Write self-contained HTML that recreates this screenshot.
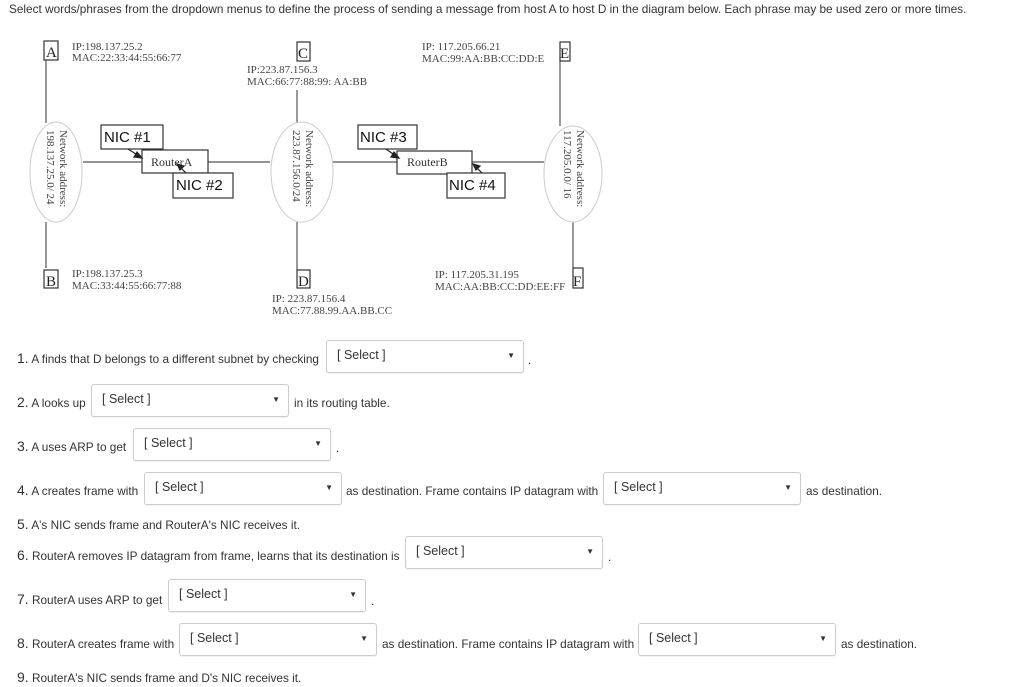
<!DOCTYPE html>
<html><head><meta charset="utf-8"><style>
body{margin:0;width:1024px;height:687px;background:#fff;position:relative;overflow:hidden;font-family:"Liberation Sans",Arial,sans-serif;color:#333;}
.t{position:absolute;font-size:11.8px;white-space:nowrap;line-height:14px;}
.t b{font-weight:normal;font-size:14px;}
.s{position:absolute;width:198px;height:33px;border:1px solid #ccc;border-radius:3px;box-sizing:border-box;background:#fff;box-shadow:0 1px 1px rgba(0,0,0,.06);}
.s span{position:absolute;left:10px;top:7px;font-size:12.5px;color:#333;}
.s i{position:absolute;right:8px;top:10px;font-style:normal;font-size:8px;color:#333;}
</style></head><body>
<div class="t" style="left:9px;top:2px;">Select words/phrases from the dropdown menus to define the process of sending a message from host A to host D in the diagram below. Each phrase may be used zero or more times.</div>

<svg width="1024" height="330" style="position:absolute;left:0;top:0" font-family="Liberation Serif, serif" fill="#444">
<g stroke="#555" stroke-width="1.2" fill="none">
<line x1="46" y1="60" x2="46" y2="123"/><line x1="46" y1="222" x2="46" y2="268"/>
<line x1="297" y1="90" x2="297" y2="123"/><line x1="297" y1="222" x2="297" y2="270"/>
<line x1="560" y1="61" x2="560" y2="126"/><line x1="573" y1="222" x2="573" y2="268"/>
<line x1="83" y1="162" x2="142" y2="162"/><line x1="208" y1="162" x2="270" y2="162"/>
<line x1="333" y1="162" x2="397" y2="162"/><line x1="472" y1="162" x2="544" y2="162"/>
</g>
<g fill="#fff" stroke="#ccc" stroke-width="1">
<ellipse cx="56" cy="172" rx="26" ry="50"/><ellipse cx="302" cy="172" rx="31" ry="50"/><ellipse cx="573" cy="174" rx="29" ry="48"/>
</g>
<g fill="#fff" stroke="#333" stroke-width="1.2">
<rect x="101" y="125" width="62" height="24"/><rect x="142" y="150" width="66" height="23"/><rect x="173" y="173" width="60" height="25"/>
<rect x="358" y="125" width="59" height="24"/><rect x="397" y="151" width="75" height="23"/><rect x="447" y="173" width="58" height="25"/>
<rect x="44" y="41" width="14" height="19"/><rect x="297" y="42" width="13" height="19"/><rect x="560" y="42" width="10" height="19"/>
<rect x="44" y="270" width="14" height="18"/><rect x="297" y="270" width="13" height="18"/><rect x="573" y="268" width="10" height="20"/>
</g>
<g stroke="#222" stroke-width="1.2" fill="#222">
<line x1="128" y1="149" x2="139" y2="156"/><polygon points="142,158 134,157 137,152"/>
<line x1="186" y1="173" x2="180" y2="167"/><polygon points="177,164 184,166 180,170"/>
<line x1="386" y1="149" x2="396" y2="156"/><polygon points="399,158 391,157 394,152"/>
<line x1="482" y1="173" x2="476" y2="167"/><polygon points="473,164 480,166 476,170"/>
</g>
<g font-family="Liberation Sans, Arial, sans-serif" font-size="15" fill="#111">
<text x="104" y="142">NIC #1</text><text x="176" y="190">NIC #2</text>
<text x="360" y="142">NIC #3</text><text x="449" y="190">NIC #4</text>
</g>
<g font-size="12" fill="#333">
<text x="151" y="166">RouterA</text><text x="407" y="166">RouterB</text>
</g>
<g font-size="15" fill="#222">
<text x="46" y="57">A</text><text x="298" y="58">C</text><text x="560" y="58">E</text>
<text x="46" y="286">B</text><text x="298" y="286">D</text><text x="573" y="286">F</text>
</g>
<g font-size="11" fill="#444">
<text x="72" y="50">IP:198.137.25.2</text><text x="72" y="61">MAC:22:33:44:55:66:77</text>
<text x="247" y="73">IP:223.87.156.3</text><text x="247" y="85">MAC:66:77:88:99: AA:BB</text>
<text x="422" y="50">IP: 117.205.66.21</text><text x="422" y="62">MAC:99:AA:BB:CC:DD:E</text>
<text x="72" y="277">IP:198.137.25.3</text><text x="72" y="289">MAC:33:44:55:66:77:88</text>
<text x="272" y="302">IP: 223.87.156.4</text><text x="272" y="314">MAC:77.88.99.AA.BB.CC</text>
<text x="435" y="278">IP: 117.205.31.195</text><text x="435" y="290">MAC:AA:BB:CC:DD:EE:FF</text>
<text transform="translate(60,130) rotate(90)">Network address:</text>
<text transform="translate(47,130) rotate(90)">198.137.25.0/ 24</text>
<text transform="translate(306,130) rotate(90)">Network address:</text>
<text transform="translate(293,130) rotate(90)">223.87.156.0/24</text>
<text transform="translate(577,130) rotate(90)">Network address:</text>
<text transform="translate(564,130) rotate(90)">117.205.0.0/ 16</text>
</g>
</svg>

<div class="t" style="left:17px;top:351px;"><b>1.</b> A finds that D belongs to a different subnet by checking</div>
<div class="s" style="left:326px;top:340px;"><span>[ Select ]</span><i>▼</i></div>
<div class="t" style="left:528px;top:353px;">.</div>

<div class="t" style="left:17px;top:395px;"><b>2.</b> A looks up</div>
<div class="s" style="left:91px;top:384px;"><span>[ Select ]</span><i>▼</i></div>
<div class="t" style="left:294px;top:396px;">in its routing table.</div>

<div class="t" style="left:17px;top:439px;"><b>3.</b> A uses ARP to get</div>
<div class="s" style="left:133px;top:428px;"><span>[ Select ]</span><i>▼</i></div>
<div class="t" style="left:336px;top:441px;">.</div>

<div class="t" style="left:17px;top:483px;"><b>4.</b> A creates frame with</div>
<div class="s" style="left:144px;top:472px;"><span>[ Select ]</span><i>▼</i></div>
<div class="t" style="left:346px;top:484px;">as destination. Frame contains IP datagram with</div>
<div class="s" style="left:603px;top:472px;"><span>[ Select ]</span><i>▼</i></div>
<div class="t" style="left:806px;top:484px;">as destination.</div>

<div class="t" style="left:17px;top:517px;"><b>5.</b> A's NIC sends frame and RouterA's NIC receives it.</div>

<div class="t" style="left:17px;top:548px;"><b>6.</b> RouterA removes IP datagram from frame, learns that its destination is</div>
<div class="s" style="left:405px;top:536px;"><span>[ Select ]</span><i>▼</i></div>
<div class="t" style="left:608px;top:550px;">.</div>

<div class="t" style="left:17px;top:592px;"><b>7.</b> RouterA uses ARP to get</div>
<div class="s" style="left:168px;top:579px;"><span>[ Select ]</span><i>▼</i></div>
<div class="t" style="left:371px;top:594px;">.</div>

<div class="t" style="left:17px;top:636px;"><b>8.</b> RouterA creates frame with</div>
<div class="s" style="left:179px;top:623px;"><span>[ Select ]</span><i>▼</i></div>
<div class="t" style="left:382px;top:637px;">as destination. Frame contains IP datagram with</div>
<div class="s" style="left:638px;top:623px;"><span>[ Select ]</span><i>▼</i></div>
<div class="t" style="left:841px;top:637px;">as destination.</div>

<div class="t" style="left:17px;top:670px;"><b>9.</b> RouterA's NIC sends frame and D's NIC receives it.</div>
</body></html>
